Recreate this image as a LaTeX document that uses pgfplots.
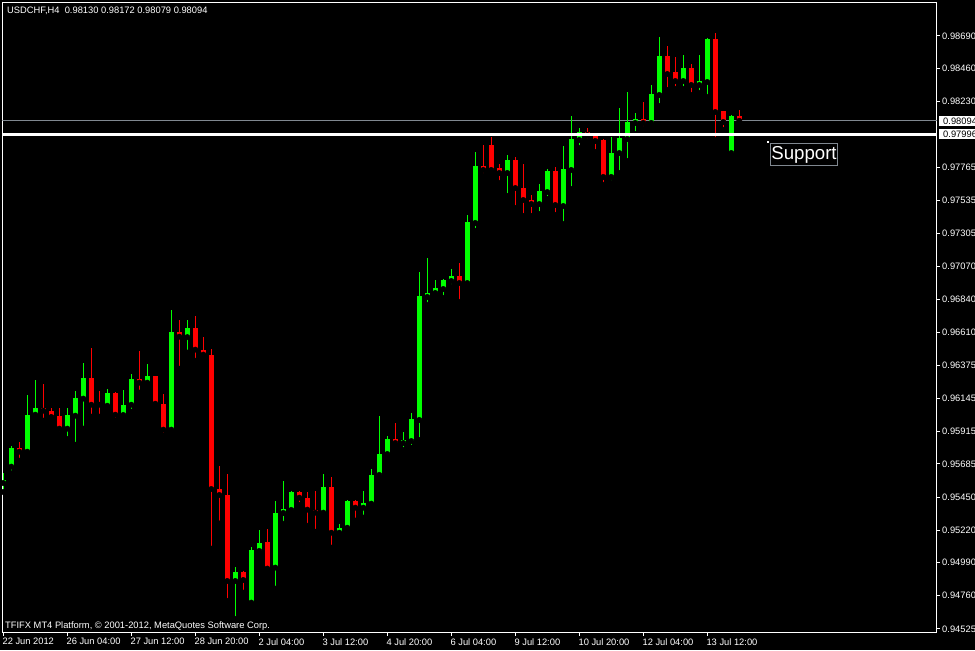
\documentclass[border=0pt]{standalone}
\usepackage{pgfplots}
\usepackage{pgfplotstable}
\pgfplotsset{compat=1.18}
\usepackage{fontspec}
\setmainfont{Liberation Sans}
\definecolor{bull}{RGB}{0,255,0}
\definecolor{bear}{RGB}{255,0,0}
\definecolor{pline}{RGB}{128,136,144}

% candles: index, open, high, low, close
\pgfplotstableread{
i O H L C
0 0.95550 0.95621 0.95487 0.95571
1 0.95665 0.95812 0.95618 0.95794
3 0.95770 0.96166 0.95765 0.96028
4 0.96030 0.96274 0.96002 0.96077
8 0.95932 0.96077 0.95859 0.96028
9 0.96023 0.96197 0.95819 0.96147
10 0.96143 0.96393 0.95932 0.96288
13 0.96093 0.96211 0.96058 0.96180
15 0.96028 0.96201 0.96009 0.96098
16 0.96100 0.96316 0.96051 0.96281
18 0.96255 0.96386 0.96227 0.96300
21 0.95925 0.96764 0.95895 0.96611
23 0.96575 0.96695 0.96466 0.96637
29 0.94862 0.94962 0.94595 0.94925
31 0.94710 0.95099 0.94710 0.95080
32 0.95073 0.95220 0.95066 0.95127
34 0.94956 0.95424 0.94808 0.95340
35 0.95340 0.95564 0.95264 0.95368
36 0.95361 0.95496 0.95354 0.95489
40 0.95342 0.95614 0.95314 0.95522
42 0.95201 0.95262 0.95198 0.95236
43 0.95236 0.95433 0.95222 0.95426
45 0.95377 0.95494 0.95307 0.95410
46 0.95405 0.95649 0.95384 0.95607
47 0.95607 0.96021 0.95581 0.95754
48 0.95754 0.95880 0.95735 0.95860
50 0.95831 0.95909 0.95782 0.95852
51 0.95845 0.96042 0.95798 0.96000
52 0.95993 0.97032 0.95852 0.96864
53 0.96857 0.97131 0.96801 0.96885
54 0.96885 0.96976 0.96864 0.96920
55 0.96913 0.96983 0.96850 0.96976
56 0.96969 0.97054 0.96927 0.97004
58 0.96955 0.97433 0.96920 0.97384
59 0.97377 0.97875 0.97321 0.97777
63 0.97728 0.97854 0.97566 0.97819
67 0.97510 0.97651 0.97440 0.97601
68 0.97594 0.97756 0.97545 0.97742
70 0.97496 0.97917 0.97370 0.97756
71 0.97749 0.98128 0.97615 0.97967
72 0.97960 0.98044 0.97903 0.98016
76 0.97700 0.97981 0.97658 0.97868
77 0.97868 0.98184 0.97728 0.97974
78 0.97967 0.98297 0.97812 0.98086
79 0.98079 0.98149 0.98002 0.98107
81 0.98079 0.98346 0.98051 0.98283
82 0.98276 0.98683 0.98198 0.98550
85 0.98374 0.98557 0.98318 0.98465
87 0.98346 0.98557 0.98290 0.98374
88 0.98367 0.98675 0.98262 0.98669
91 0.97868 0.98135 0.97840 0.98128
}\bulltable

\pgfplotstableread{
i O H L C
2 0.95796 0.95836 0.95707 0.95770
5 0.96077 0.96246 0.95988 0.96058
6 0.96056 0.96077 0.95995 0.96014
7 0.96021 0.96077 0.95895 0.95932
11 0.96288 0.96496 0.96016 0.96100
12 0.96105 0.96197 0.96016 0.96100
14 0.96180 0.96190 0.95988 0.96030
17 0.96281 0.96480 0.96185 0.96255
19 0.96302 0.96305 0.96100 0.96107
20 0.96107 0.96176 0.95883 0.95925
22 0.96611 0.96695 0.96353 0.96578
24 0.96637 0.96723 0.96409 0.96487
25 0.96487 0.96578 0.96421 0.96452
26 0.96452 0.96492 0.95089 0.95508
27 0.95508 0.95670 0.95266 0.95466
28 0.95466 0.95614 0.94722 0.94862
30 0.94925 0.94930 0.94780 0.94869
33 0.95136 0.95227 0.94925 0.94949
37 0.95489 0.95496 0.95396 0.95447
38 0.95447 0.95487 0.95250 0.95363
39 0.95363 0.95496 0.95208 0.95342
41 0.95522 0.95590 0.95096 0.95201
44 0.95426 0.95433 0.95286 0.95377
49 0.95860 0.95972 0.95798 0.95831
57 0.97004 0.97096 0.96822 0.96955
60 0.97777 0.97925 0.97707 0.97749
61 0.97925 0.97981 0.97721 0.97749
62 0.97763 0.97791 0.97658 0.97728
64 0.97819 0.97840 0.97482 0.97622
65 0.97622 0.97791 0.97426 0.97538
66 0.97538 0.97573 0.97426 0.97510
69 0.97742 0.97770 0.97433 0.97503
73 0.98016 0.98044 0.97953 0.97995
74 0.97995 0.98009 0.97875 0.97953
75 0.97960 0.97967 0.97644 0.97700
80 0.98107 0.98227 0.98037 0.98079
83 0.98550 0.98620 0.98311 0.98423
84 0.98437 0.98543 0.98318 0.98374
86 0.98465 0.98493 0.98276 0.98346
89 0.98669 0.98711 0.97960 0.98156
90 0.98163 0.98165 0.98030 0.98086
92 0.98130 0.98172 0.98079 0.98094
}\beartable

\pgfplotsset{
  candle/.style n args={2}{only marks, mark=none, forget plot,
    error bars/.cd, y dir=plus, y explicit, error mark=none,
    error bar style={draw=#1, line width=#2, solid}},
}

\begin{document}
\begin{tikzpicture}
\useasboundingbox (0,0) rectangle (731.25pt,-487.5pt);
\fill[black] (0,0) rectangle (731.25pt,-487.5pt);
\begin{axis}[
  at={(1.725pt,-1.725pt)}, anchor=north west,
  scale only axis, width=701pt, height=473pt,
  xmin=-0.125, xmax=116.71,
  ymin=0.944967, ymax=0.989267,
  clip mode=individual,
  axis background/.style={fill=black},
  axis line style={draw=white, line width=0.75pt},
  font=\fontsize{7}{8.4}\selectfont,
  tick align=outside,
  major tick length=2.25pt,
  tick style={draw=white, line width=0.75pt},
  xtick pos=left, ytick pos=right,
  xticklabel pos=left, yticklabel pos=right,
  xtick={0,8,16,24,32,40,48,56,64,72,80,88},
  xticklabels={22 Jun 2012, 26 Jun 04:00, 27 Jun 12:00, 28 Jun 20:00, 2 Jul 04:00, 3 Jul 12:00, 4 Jul 20:00, 6 Jul 04:00, 9 Jul 12:00, 10 Jul 20:00, 12 Jul 04:00, 13 Jul 12:00},
  xticklabel style={text=white, anchor=north west, inner sep=0pt, xshift=-0.75pt, yshift=-1.5pt},
  ytick={0.98690,0.98460,0.98230,0.97765,0.97535,0.97305,0.97070,0.96840,0.96610,0.96375,0.96145,0.95915,0.95685,0.95450,0.95220,0.94990,0.94760,0.94525},
  yticklabels={0.98690,0.98460,0.98230,0.97765,0.97535,0.97305,0.97070,0.96840,0.96610,0.96375,0.96145,0.95915,0.95685,0.95450,0.95220,0.94990,0.94760,0.94525},
  yticklabel style={text=white, anchor=west, inner sep=0pt, xshift=1.5pt},
  scaled y ticks=false,
]
% current price line
\addplot[pline, line width=0.75pt, forget plot] coordinates {(-1,0.98094) (118,0.98094)};
% wicks
\addplot[candle={bull}{0.75pt}] table[x=i, y=L, y error expr=\thisrow{H}-\thisrow{L}] {\bulltable};
\addplot[candle={bear}{0.75pt}] table[x=i, y=L, y error expr=\thisrow{H}-\thisrow{L}] {\beartable};
% bodies
\addplot[candle={bull}{3.75pt}] table[x=i, y=O, y error expr=\thisrow{C}-\thisrow{O}] {\bulltable};
\addplot[candle={bear}{3.75pt}] table[x=i, y=C, y error expr=\thisrow{O}-\thisrow{C}] {\beartable};
% support line on top of candles
\addplot[white, line width=2pt, forget plot] coordinates {(-1,0.97996) (118,0.97996)};

% price boxes on the scale
\node[fill=white, text=black, anchor=west, inner xsep=3pt, inner ysep=1pt, text width=30pt, minimum height=7.5pt, xshift=1.5pt]
  at ({rel axis cs:1,0}|-{axis cs:0,0.98094}) {0.98094};
\node[fill=white, text=black, anchor=west, inner xsep=3pt, inner ysep=1pt, text width=30pt, minimum height=7.5pt, xshift=1.5pt, yshift=0.6pt]
  at ({rel axis cs:1,0}|-{axis cs:0,0.97996}) {0.97996};

% title and footer
\node[anchor=north west, inner sep=0pt, text=white, xshift=3.5pt, yshift=-3.3pt] at (rel axis cs:0,1)
  {USDCHF,H4\ \ 0.98130 0.98172 0.98079 0.98094};
\node[anchor=base west, inner sep=0pt, text=white, xshift=2pt, yshift=3pt] at (rel axis cs:0,0)
  {TFIFX MT4 Platform, © 2001-2012, MetaQuotes Software Corp.};

% support label
\node[fill=white, inner sep=0pt, minimum size=1.5pt] at (axis cs:95.6,0.97946) {};
\node[anchor=north west, draw=pline, line width=0.75pt, text=white, inner xsep=0.6pt, inner ysep=1.6pt,
  font=\fontsize{14}{16}\selectfont] at (axis cs:95.84,0.97936) {Support};
\end{axis}
\end{tikzpicture}
\end{document}
